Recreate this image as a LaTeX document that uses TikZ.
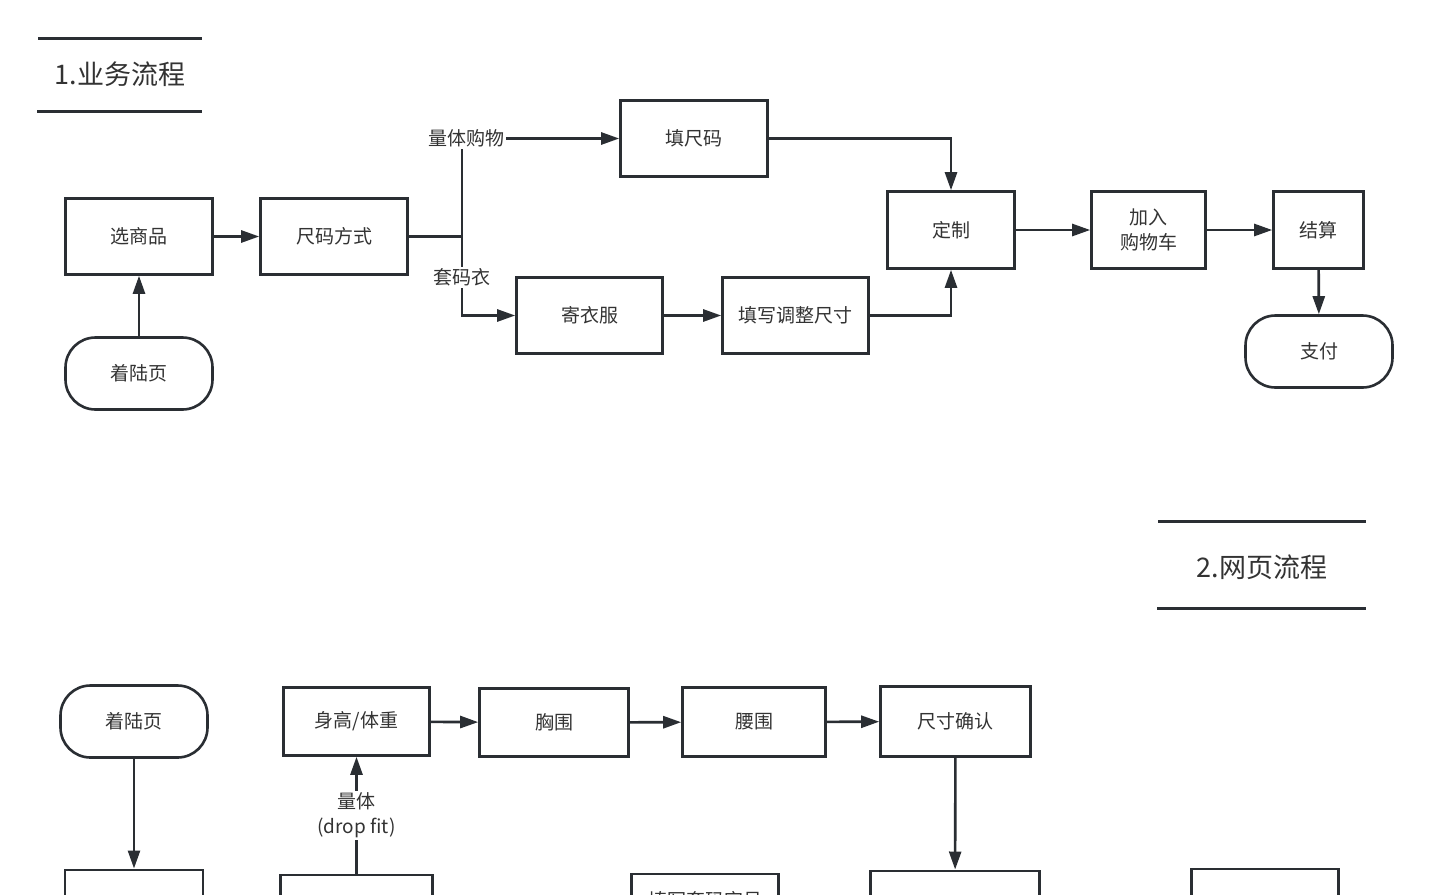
\documentclass[tikz,border=0pt]{standalone}
\usepackage{fontspec}
\setmainfont{Noto Sans CJK SC}
\usetikzlibrary{arrows.meta}

\definecolor{linec}{RGB}{42,46,51}
\definecolor{textc}{RGB}{51,51,51}

\tikzset{
  box/.style={draw=linec, line width=2.6pt, text=textc, fill=white,
    font=\fontsize{19}{25}\selectfont, inner sep=0pt, align=center},
  term/.style={box, rounded corners=30pt},
  link/.style={draw=linec, line width=2.6pt},
  flow/.style={link, -{Triangle[length=18pt,width=12pt]}},
  lbl/.style={fill=white, text=textc, font=\fontsize{19}{25}\selectfont,
    inner sep=2pt, align=center},
  title/.style={text=textc, font=\fontsize{27}{32}\selectfont},
  rule/.style={draw=linec, line width=3pt}
}

\begin{document}
\begin{tikzpicture}[x=1pt,y=-1pt]

\useasboundingbox (0,0) rectangle (1431,894);
\clip (0,0) rectangle (1431,894);
\fill[white] (0,0) rectangle (1431,894);

% 1. business flow
\draw[rule] (38,38) -- (202,38);
\draw[rule] (37,111) -- (202,111);
\node[title] (title1) at (120,74) {1.业务流程};

\node[box, minimum width=147, minimum height=76] (pick) at (139,236.5) {选商品};
\node[box, minimum width=147, minimum height=76] (sizeway) at (334,236.5) {尺码方式};
\node[term, minimum width=147, minimum height=72] (landing) at (139,373.5) {着陆页};
\node[box, minimum width=147, minimum height=76] (fillsize) at (694,138.5) {填尺码};
\node[box, minimum width=146, minimum height=76] (sendcloth) at (589.5,315.5) {寄衣服};
\node[box, minimum width=146, minimum height=76] (adjust) at (795.5,315.5) {填写调整尺寸};
\node[box, minimum width=127, minimum height=77] (custom) at (951,230) {定制};
\node[box, minimum width=114, minimum height=77] (cart) at (1148.5,230) {加入\\购物车};
\node[box, minimum width=90, minimum height=77] (checkout) at (1318.5,230) {结算};
\node[term, minimum width=147, minimum height=72] (pay) at (1319,351.5) {支付};

\coordinate (split) at (462,236.5);

\draw[flow] (landing) -- (pick);
\draw[flow] (pick) -- (sizeway);
\draw[link] (sizeway.east) -- (split);
\draw[flow] (split) |- (fillsize.west) node[lbl, pos=0.5, xshift=4pt] {量体购物};
\draw[flow] (split) |- (sendcloth.west) node[lbl, pos=0.26] {套码衣};
\draw[flow] (sendcloth) -- (adjust);
\draw[flow] (fillsize.east) -| (custom.north);
\draw[flow] (adjust.east) -| (custom.south);
\draw[flow] (custom) -- (cart);
\draw[flow] (cart) -- (checkout);
\draw[flow] (checkout) -- (pay);

% 2. page flow
\draw[rule] (1158,521) -- (1366,521);
\draw[rule] (1157,608) -- (1366,608);
\node[title] (title2) at (1262,567) {2.网页流程};

\node[term, minimum width=147, minimum height=72] (landingb) at (134,721.5) {着陆页};
\node[box, minimum width=146, minimum height=68] (hw) at (356.5,721.5) {身高/体重};
\node[box, minimum width=149, minimum height=68] (chest) at (554,722.5) {胸围};
\node[box, minimum width=143, minimum height=69] (waist) at (754,722) {腰围};
\node[box, minimum width=150, minimum height=70] (confirm) at (955.5,721.5) {尺寸确认};

\node[box, anchor=north, minimum width=138, minimum height=80] (nb1) at (134,868.5) {};
\node[box, anchor=north, minimum width=152, minimum height=80] (nb2) at (356.5,873.5) {};
\node[box, anchor=north, minimum width=147, minimum height=52] (nb3) at (705,872.5) {填写套码字号};
\node[box, anchor=north, minimum width=169, minimum height=80] (nb4) at (955,869.5) {};
\node[box, anchor=north, minimum width=147, minimum height=80] (nb5) at (1265,867.5) {};

\draw[flow] (hw) -- (chest);
\draw[flow] (chest) -- (waist);
\draw[flow] (waist) -- (confirm);
\draw[flow] (landingb) -- (nb1);
\draw[flow] (confirm) -- (nb4);
\draw[flow] (nb2.north) -- (hw.south) node[lbl, pos=0.5] {量体\\(drop fit)};

\end{tikzpicture}
\end{document}
